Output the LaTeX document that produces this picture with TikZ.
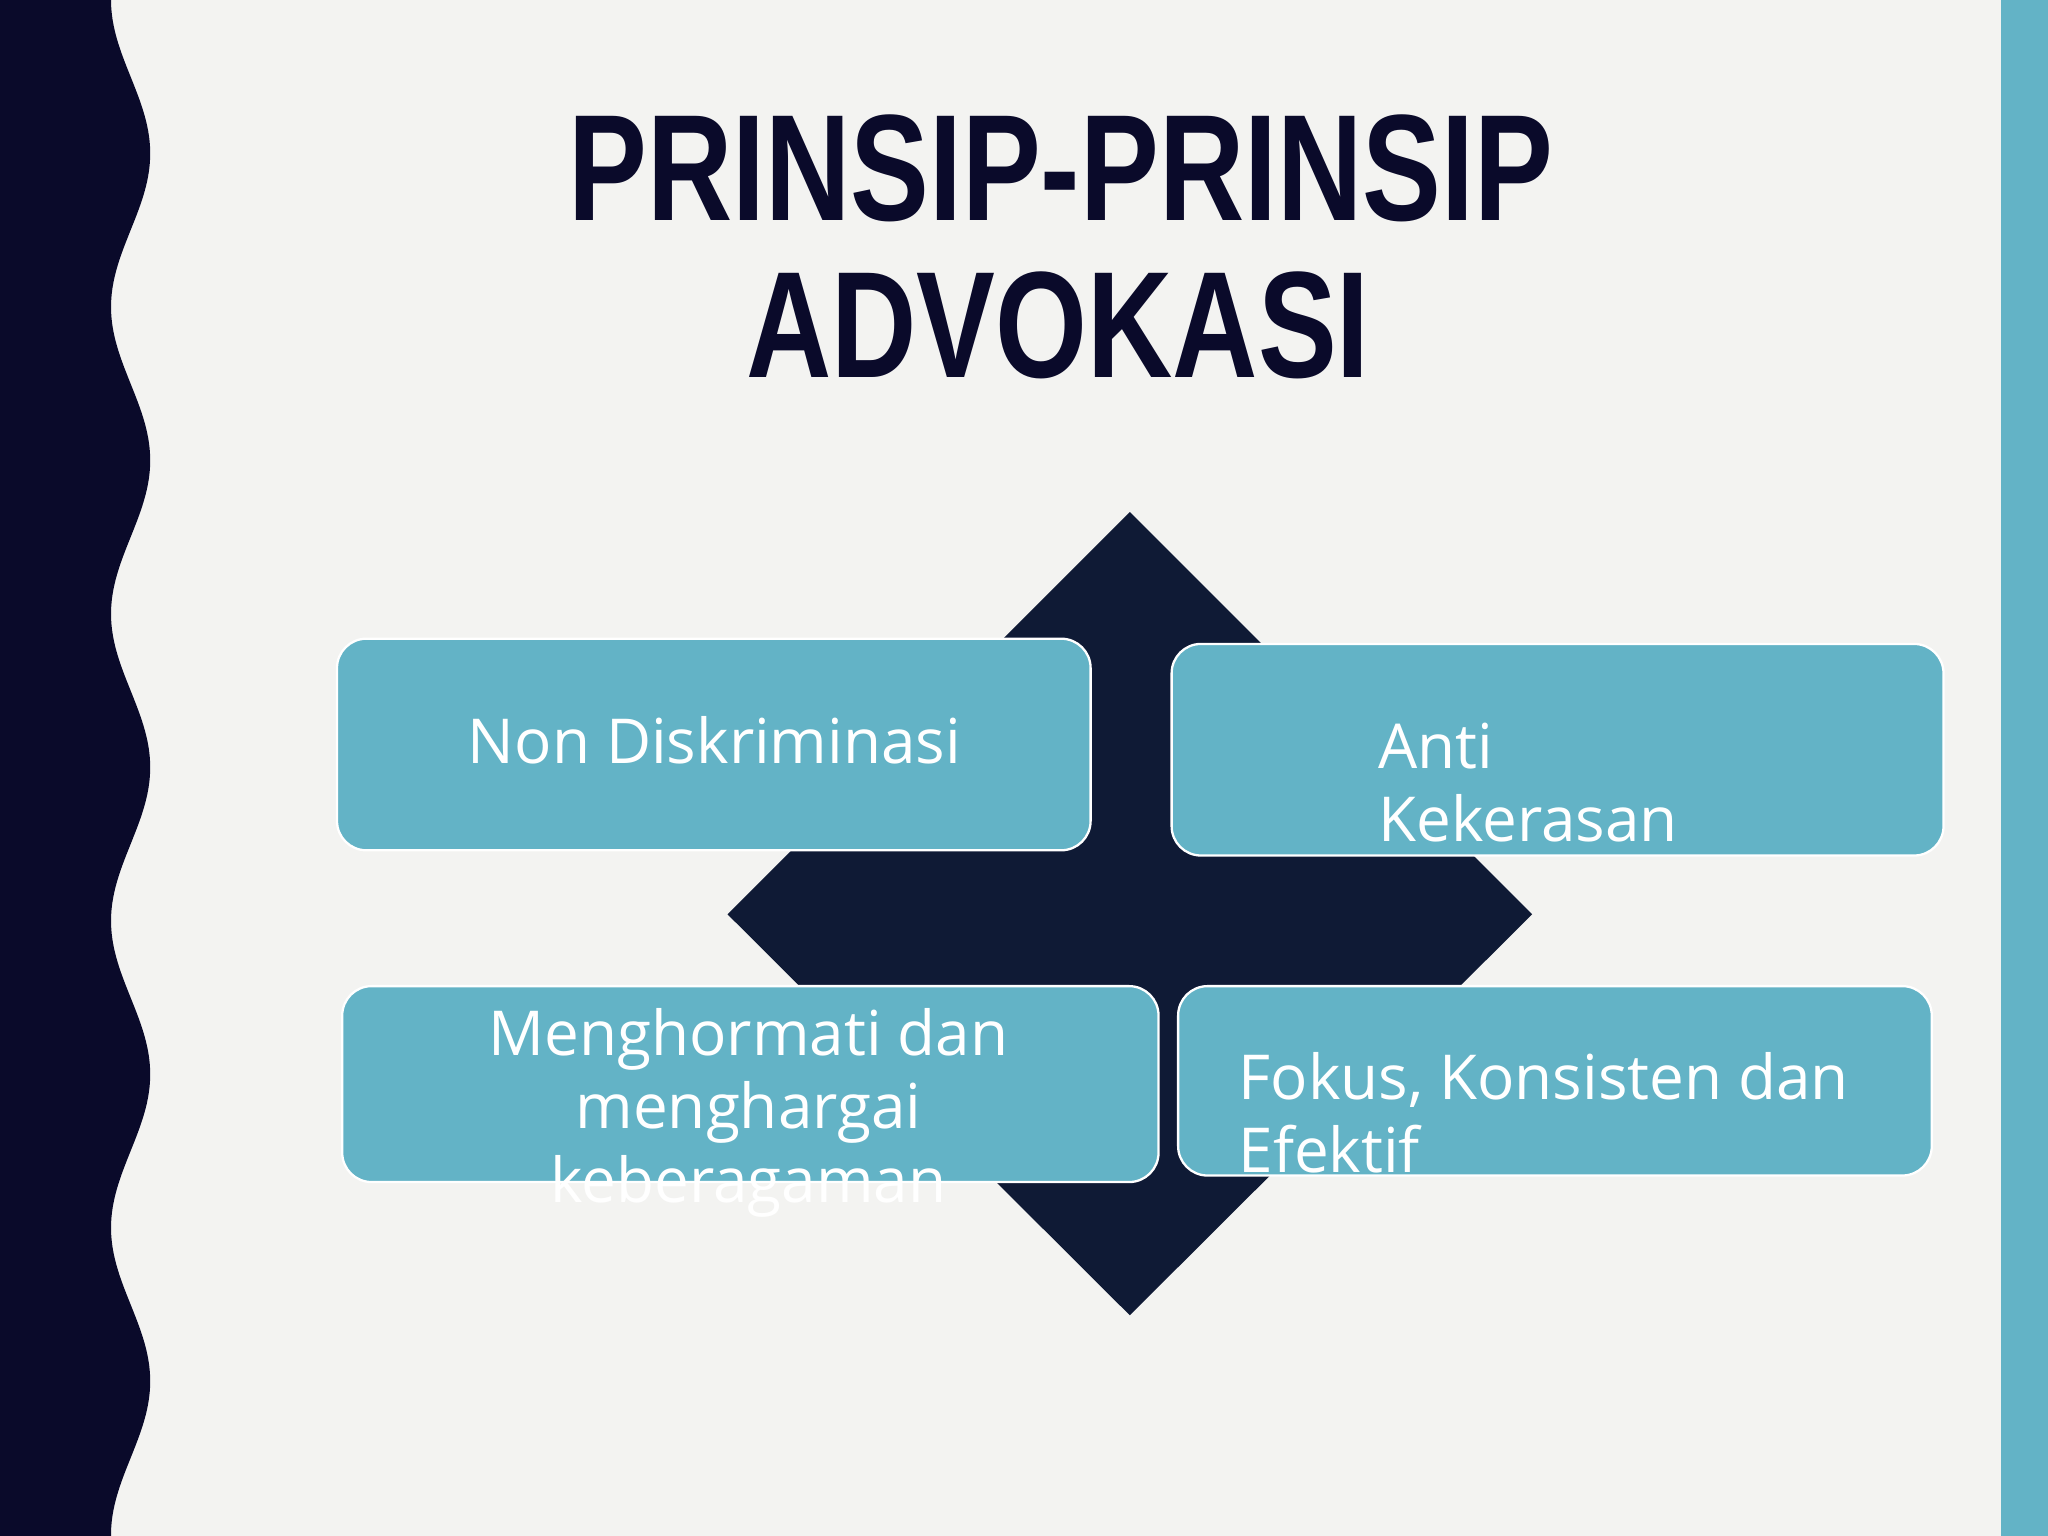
\documentclass[tikz,border=0pt]{standalone}
\usepackage{fontspec}
\setmainfont{Open Sans}
\newfontfamily\titlefont{Liberation Sans}
\definecolor{bgpaper}{HTML}{F3F3F1}
\definecolor{navyband}{HTML}{0A0A2A}
\definecolor{navydiamond}{HTML}{0F1A35}
\definecolor{tealbox}{HTML}{63B3C6}
\tikzset{
  box/.style={fill=tealbox, draw=white, line width=1pt, rounded corners=0.45cm},
  boxtext/.style={text=white, font=\fontsize{27}{30}\selectfont, inner sep=0pt},
  titletext/.style={text=navyband, font=\titlefont\bfseries\fontsize{66}{70}\selectfont, xscale=0.78}
}
\begin{document}
\begin{tikzpicture}[x=0.02cm, y=-0.02cm]
			\fill[bgpaper] (0, 0) rectangle (1568, 1176);
			\useasboundingbox (0, 0) rectangle (1568, 1176);
			
			% side bands
			\fill[navyband] (0, 0) -- plot[domain=0:1176, samples=200, smooth] ({100 - 15*cos(\x/235*360)}, \x) -- (0, 1176) -- cycle;
			\fill[tealbox] (1532, 0) rectangle (1568, 1176);
			
			% title
			\node[titletext] (title1) at (812, 129) {PRINSIP-PRINSIP};
			\node[titletext] (title2) at (810, 249) {ADVOKASI};
			
			\fill[navydiamond] (865, 392) -- (1173, 700) -- (865, 1007) -- (557, 700) -- cycle;
			
			\draw[box] (258, 489) rectangle (835, 651);
			\draw[box] (897, 493) rectangle (1488, 655);
			\draw[box] (262, 755) rectangle (887, 905);
			\draw[box] (902, 755) rectangle (1479, 900);
			
			\node[boxtext] (nondis) at (547, 567) {Non Diskriminasi};
			\node[boxtext, anchor=west, align=left] (anti) at (1055, 599) {Anti\\[2pt]Kekerasan};
			\node[boxtext, align=center] (hormat) at (573, 852) {Menghormati dan\\[2pt]menghargai\\[2pt]keberagaman};
			\node[boxtext, anchor=west, align=left] (fokus) at (948, 852) {Fokus, Konsisten dan\\[2pt]Efektif};
			
		\end{tikzpicture}
\end{document}
